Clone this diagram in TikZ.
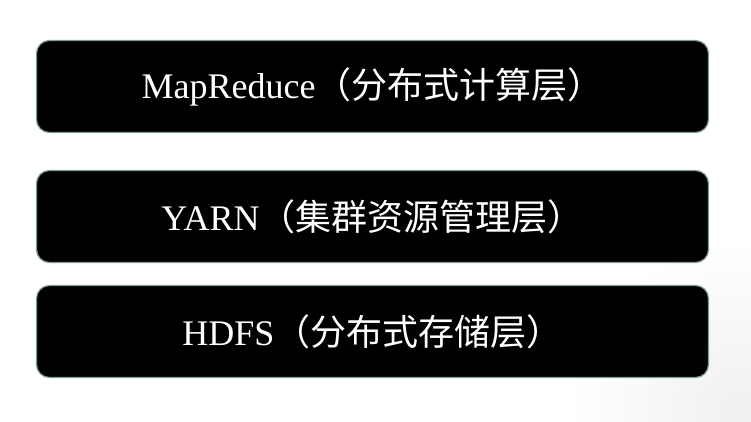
\documentclass[tikz,border=0pt]{standalone}
\usepackage{fontspec}
\setmainfont{Liberation Serif}
\newfontfamily\cjk{Noto Sans CJK SC}
\usetikzlibrary{positioning}

\begin{document}
\begin{tikzpicture}[x=1pt,y=1pt,
    layer/.style={rectangle, rounded corners=13pt, fill=black, draw=edgegray, line width=1.2pt,
        minimum width=672pt, minimum height=92pt, outer sep=0pt, text=white,
        font=\fontsize{36}{40}\selectfont}]
    \definecolor{edgegray}{HTML}{7F9A9A}
    % Canvas
    \useasboundingbox (0,0) rectangle (751,421);
    \fill[white] (0,0) rectangle (751,421);
    \shade[inner color=gray!12, outer color=white] (740,10) circle (170);
    
    % Layers
    \node[layer] (mapreduce) at (372.5,334.5) {MapReduce{\cjk（分布式计算层）}};
    \node[layer, below=38pt of mapreduce] (yarn) {YARN{\cjk（集群资源管理层）}};
    \node[layer, below=23pt of yarn] (hdfs) {HDFS{\cjk（分布式存储层）}};
\end{tikzpicture}
\end{document}
